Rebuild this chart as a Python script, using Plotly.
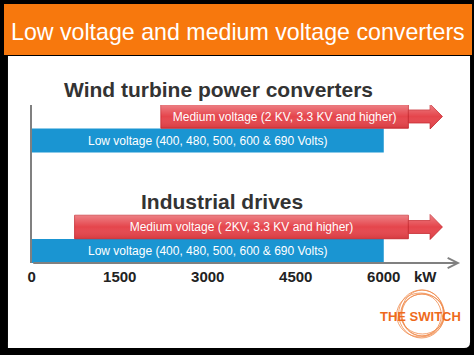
import plotly.graph_objects as go

# ---- data ----
groups = ["Wind turbine power converters", "Industrial drives"]
low_labels = ["Low voltage (400, 480, 500, 600 & 690 Volts)",
              "Low voltage (400, 480, 500, 600 & 690 Volts)"]
med_labels = ["Medium voltage (2 KV, 3.3 KV and higher)",
              "Medium voltage ( 2KV, 3.3 KV and higher)"]
low_start = [0, 0]
low_end = [6000, 6000]
med_start = [2200, 730]
med_end = [6420, 6420]
med_arrow_shaft_end = [6790, 6790]
med_arrow_tip = [7000, 7000]
tick_vals = [0, 1500, 3000, 4500, 6000]
tick_text = ["0", "1500", "3000", "4500", "6000"]
unit_label = "kW"
title = "Low voltage and medium voltage converters"

# ---- layout helpers ----
W, H = 474, 355
def px(x):
    return x / W
def py(y):
    return 1 - y / H

low_rows = [4.604, 0.0]
med_rows = [5.604, 1.0]
med_half = 0.49

BLUE = "#1A95D2"
RED = "#E5454C"
RED_EDGE = "#C5262C"
SHEEN = [[0, "rgba(140,0,0,0.18)"], [0.5, "rgba(255,255,255,0.0)"], [1, "rgba(255,255,255,0.32)"]]
FONT = "Liberation Sans, Arial, Helvetica, sans-serif"

fig = go.Figure()

fig.add_trace(go.Bar(
    orientation="h", y=low_rows, base=low_start,
    x=[e - s for s, e in zip(low_start, low_end)],
    width=1.0, marker=dict(color=BLUE, line=dict(width=0)),
    text=low_labels, textposition="inside", insidetextanchor="middle",
    textfont=dict(color="white", size=12, family=FONT), textangle=0,
    hoverinfo="skip", showlegend=False))

fig.add_trace(go.Bar(
    orientation="h", y=med_rows, base=med_start,
    x=[e - s for s, e in zip(med_start, med_end)],
    width=2 * med_half, marker=dict(color=RED, line=dict(width=0.8, color=RED_EDGE)),
    text=med_labels, textposition="inside", insidetextanchor="middle",
    textfont=dict(color="white", size=12, family=FONT), textangle=0,
    hoverinfo="skip", showlegend=False))

# glossy sheen over the medium voltage bars
for c, s, e in zip(med_rows, med_start, med_end):
    fig.add_trace(go.Scatter(
        x=[s, e, e, s, s], y=[c - med_half, c - med_half, c + med_half, c + med_half, c - med_half],
        mode="lines", fill="toself", line=dict(width=0),
        fillgradient=dict(type="vertical", colorscale=SHEEN),
        hoverinfo="skip", showlegend=False))

# arrows after the medium voltage bars
for c, e, se, tip in zip(med_rows, med_end, med_arrow_shaft_end, med_arrow_tip):
    xs = [e, se, se, tip, se, se, e, e]
    ys = [c - 0.27, c - 0.27, c - 0.52, c, c + 0.52, c + 0.27, c + 0.27, c - 0.27]
    fig.add_trace(go.Scatter(
        x=xs, y=ys, mode="lines", fill="toself",
        fillcolor=RED, line=dict(color=RED_EDGE, width=0.8),
        hoverinfo="skip", showlegend=False))
    fig.add_trace(go.Scatter(
        x=xs, y=ys, mode="lines", fill="toself", line=dict(width=0),
        fillgradient=dict(type="vertical", colorscale=SHEEN),
        hoverinfo="skip", showlegend=False))

x_right = (W - 28) * 6000 / (383 - 28)

shapes = [
    dict(type="rect", xref="paper", yref="paper", x0=0, x1=px(472), y0=py(55), y1=py(4),
         fillcolor="#F7780D", line=dict(width=0), layer="below"),
    dict(type="path", xref="paper", yref="paper",
         path=f"M {px(4)},{py(56)} L {px(470)},{py(56)} L {px(470)},{py(342)} "
              f"Q {px(470)},{py(348)} {px(464)},{py(348)} L {px(4)},{py(348)} Z",
         fillcolor="white", line=dict(width=0), layer="below"),
]
# logo rings
for dx, dy, rx, ry in [(0, 0, 23, 24), (1, -1, 21, 23), (-1, 1, 24, 22), (0, 1, 20, 21), (1, 0, 22, 20)]:
    cx, cy = 421 + dx, 314 + dy
    shapes.append(dict(type="circle", xref="paper", yref="paper",
                       x0=px(cx - rx), x1=px(cx + rx), y0=py(cy + ry), y1=py(cy - ry),
                       line=dict(color="#F08A4B", width=0.8), layer="above"))

annotations = [
    dict(text=title, xref="paper", yref="paper", x=px(5), y=py(32), xanchor="left",
         yanchor="middle", showarrow=False,
         font=dict(color="white", size=23.2, family=FONT)),
    dict(text=groups[0], xref="paper", yref="paper", x=px(216), y=py(89),
         xanchor="center", yanchor="middle", showarrow=False,
         font=dict(color="#333333", size=21, family=FONT, weight="bold")),
    dict(text=groups[1], xref="paper", yref="paper", x=px(220), y=py(201),
         xanchor="center", yanchor="middle", showarrow=False,
         font=dict(color="#333333", size=21, family=FONT, weight="bold")),
    dict(text=unit_label, xref="x", yref="paper", x=6710, y=py(276),
         xanchor="center", yanchor="middle", showarrow=False,
         font=dict(color="#222222", size=15, family=FONT, weight="bold")),
    # horizontal axis arrow
    dict(text="", xref="x", yref="y", axref="x", ayref="y",
         x=7300, y=-0.5, ax=0, ay=-0.5, showarrow=True,
         arrowhead=5, arrowsize=1, arrowwidth=2, arrowcolor="#808080"),
    dict(text="THE SWITCH", xref="paper", yref="paper", x=px(420), y=py(316),
         xanchor="center", yanchor="middle", showarrow=False,
         font=dict(color="#EE6A1C", size=13, family=FONT, weight="bold")),
]

fig.update_layout(
    width=W, height=H, margin=dict(l=0, r=0, t=0, b=0),
    paper_bgcolor="black", plot_bgcolor="rgba(0,0,0,0)",
    barmode="overlay", shapes=shapes, annotations=annotations,
    xaxis=dict(domain=[px(28), 1], range=[0, x_right], showgrid=False, zeroline=False,
               showline=False, tickvals=tick_vals, ticktext=tick_text, ticks="",
               ticklabelstandoff=3,
               tickfont=dict(color="#222222", size=15, family=FONT, weight="bold"),
               fixedrange=True),
    yaxis=dict(domain=[py(263), py(105)], range=[-0.5, 6.083], showgrid=False,
               zeroline=False, showline=True, linecolor="#808080", linewidth=2,
               showticklabels=False, ticks="", fixedrange=True),
)

fig.write_html("out.html")
